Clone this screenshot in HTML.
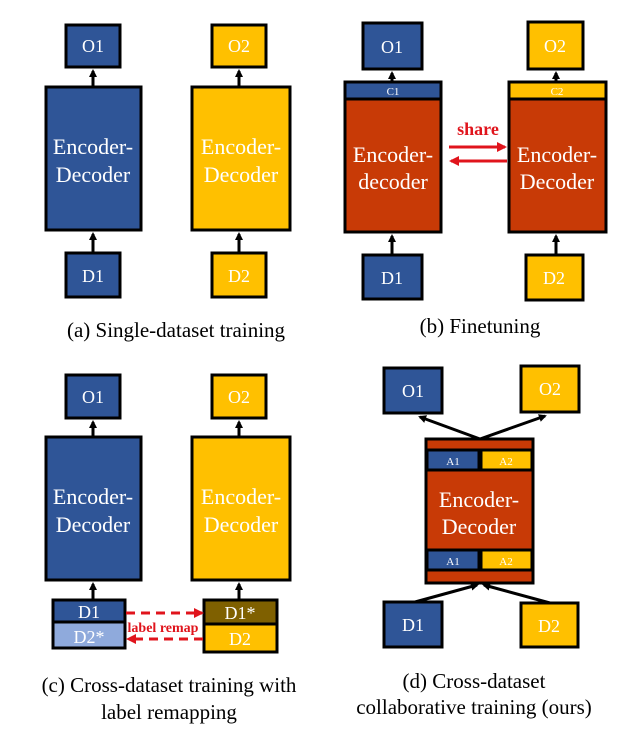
<!DOCTYPE html>
<html><head><meta charset="utf-8"><style>body{margin:0;background:#fff}svg{display:block}</style></head><body>
<svg width="638" height="737" viewBox="0 0 638 737" xmlns="http://www.w3.org/2000/svg" font-family="Liberation Serif, serif">
<defs>
<marker id="ak" markerWidth="8" markerHeight="8" refX="6" refY="4" orient="auto" markerUnits="userSpaceOnUse"><path d="M0,0 L8,4 L0,8 z" fill="#000"/></marker>
<marker id="ar" markerWidth="10" markerHeight="10" refX="8" refY="5" orient="auto" markerUnits="userSpaceOnUse"><path d="M0,0 L10,5 L0,10 z" fill="#e0141c"/></marker>
</defs>
<g stroke="#000" stroke-width="3">
<rect x="66" y="25" width="54" height="42" fill="#2f5597"/>
<rect x="46" y="87" width="95" height="143" fill="#2f5597"/>
<rect x="66" y="253" width="54" height="44" fill="#2f5597"/>
<rect x="212" y="25" width="54" height="42" fill="#ffc000"/>
<rect x="192" y="87" width="98" height="143" fill="#ffc000"/>
<rect x="212" y="253" width="54" height="44" fill="#ffc000"/>
<rect x="363" y="23" width="59" height="46" fill="#2f5597"/>
<rect x="345" y="82" width="96" height="17" fill="#2f5597"/>
<rect x="345" y="99" width="96" height="133" fill="#c83a06"/>
<rect x="363" y="255" width="59" height="44" fill="#2f5597"/>
<rect x="528" y="22" width="55" height="47" fill="#ffc000"/>
<rect x="509" y="82" width="97" height="17" fill="#ffc000"/>
<rect x="509" y="99" width="97" height="133" fill="#c83a06"/>
<rect x="526" y="255" width="57" height="45" fill="#ffc000"/>
<rect x="66" y="375" width="54" height="43" fill="#2f5597"/>
<rect x="46" y="437" width="95" height="143" fill="#2f5597"/>
<rect x="53" y="600" width="72" height="22" fill="#2f5597"/>
<rect x="53" y="622" width="72" height="26" fill="#8faadc"/>
<rect x="212" y="375" width="54" height="43" fill="#ffc000"/>
<rect x="192" y="437" width="98" height="143" fill="#ffc000"/>
<rect x="204" y="600" width="73" height="24" fill="#7f6000"/>
<rect x="204" y="624" width="73" height="28" fill="#ffc000"/>
<rect x="384" y="368" width="58" height="45" fill="#2f5597"/>
<rect x="521" y="366" width="58" height="46" fill="#ffc000"/>
<rect x="426" y="439" width="107" height="144" fill="#c83a06"/>
<rect x="427" y="450" width="52" height="20" fill="#2f5597"/>
<rect x="481" y="450" width="51" height="20" fill="#ffc000"/>
<rect x="427" y="550" width="52" height="20" fill="#2f5597"/>
<rect x="481" y="550" width="51" height="20" fill="#ffc000"/>
<rect x="384" y="602" width="58" height="45" fill="#2f5597"/>
<rect x="521" y="603" width="57" height="44" fill="#ffc000"/>
</g>
<g stroke="#000" stroke-width="3" fill="none">
<line x1="93" y1="87" x2="93" y2="71" marker-end="url(#ak)"/>
<line x1="93" y1="253" x2="93" y2="234" marker-end="url(#ak)"/>
<line x1="239" y1="87" x2="239" y2="71" marker-end="url(#ak)"/>
<line x1="239" y1="253" x2="239" y2="234" marker-end="url(#ak)"/>
<line x1="392" y1="82" x2="392" y2="73" marker-end="url(#ak)"/>
<line x1="392" y1="255" x2="392" y2="236" marker-end="url(#ak)"/>
<line x1="556" y1="82" x2="556" y2="73" marker-end="url(#ak)"/>
<line x1="556" y1="255" x2="556" y2="236" marker-end="url(#ak)"/>
<line x1="93" y1="437" x2="93" y2="422" marker-end="url(#ak)"/>
<line x1="93" y1="600" x2="93" y2="584" marker-end="url(#ak)"/>
<line x1="239" y1="437" x2="239" y2="422" marker-end="url(#ak)"/>
<line x1="239" y1="600" x2="239" y2="584" marker-end="url(#ak)"/>
<line x1="480" y1="439" x2="420" y2="417" marker-end="url(#ak)"/>
<line x1="480" y1="439" x2="545" y2="416" marker-end="url(#ak)"/>
<line x1="415" y1="602" x2="477" y2="585" marker-end="url(#ak)"/>
<line x1="550" y1="603" x2="484" y2="585" marker-end="url(#ak)"/>
</g>
<g stroke="#e0141c" stroke-width="3" fill="none">
<line x1="449" y1="147" x2="505" y2="147" marker-end="url(#ar)"/>
<line x1="507" y1="161" x2="451" y2="161" marker-end="url(#ar)"/>
<line x1="126" y1="613" x2="202" y2="613" stroke-dasharray="9,6" marker-end="url(#ar)"/>
<line x1="203" y1="639" x2="128" y2="639" stroke-dasharray="9,6" marker-end="url(#ar)"/>
</g>
<g fill="#fff" text-anchor="middle" font-size="18">
<text x="93" y="52">O1</text><text x="93" y="282">D1</text>
<text x="239" y="52">O2</text><text x="239" y="282">D2</text>
<text x="392" y="53">O1</text><text x="392" y="284">D1</text>
<text x="555" y="52">O2</text><text x="554" y="284">D2</text>
<text x="93" y="403">O1</text><text x="239" y="403">O2</text>
<text x="89" y="618">D1</text><text x="89" y="643">D2*</text>
<text x="240" y="619">D1*</text><text x="240" y="645">D2</text>
<text x="413" y="397">O1</text><text x="550" y="395">O2</text>
<text x="413" y="631">D1</text><text x="549" y="632">D2</text>
<g font-size="22">
<text x="93" y="154">Encoder-</text><text x="93" y="182">Decoder</text>
<text x="241" y="154">Encoder-</text><text x="241" y="182">Decoder</text>
<text x="393" y="162">Encoder-</text><text x="393" y="189">decoder</text>
<text x="557" y="162">Encoder-</text><text x="557" y="189">Decoder</text>
<text x="93" y="504">Encoder-</text><text x="93" y="532">Decoder</text>
<text x="241" y="504">Encoder-</text><text x="241" y="532">Decoder</text>
<text x="479" y="507">Encoder-</text><text x="479" y="534">Decoder</text>
</g>
<g font-size="11">
<text x="393" y="95">C1</text><text x="557" y="95">C2</text>
<text x="453" y="465">A1</text><text x="506" y="465">A2</text>
<text x="453" y="565">A1</text><text x="506" y="565">A2</text>
</g>
</g>
<text x="478" y="135" fill="#e0141c" font-size="18" font-weight="bold" text-anchor="middle">share</text>
<text x="163" y="632" fill="#e0141c" font-size="14" font-weight="bold" text-anchor="middle">label remap</text>
<g fill="#000" font-size="21" text-anchor="middle">
<text x="176" y="337">(a) Single-dataset training</text>
<text x="480" y="333">(b) Finetuning</text>
<text x="169" y="692">(c) Cross-dataset training with</text>
<text x="169" y="719">label remapping</text>
<text x="474" y="688">(d) Cross-dataset</text>
<text x="474" y="714">collaborative training (ours)</text>
</g>
</svg>
</body></html>
